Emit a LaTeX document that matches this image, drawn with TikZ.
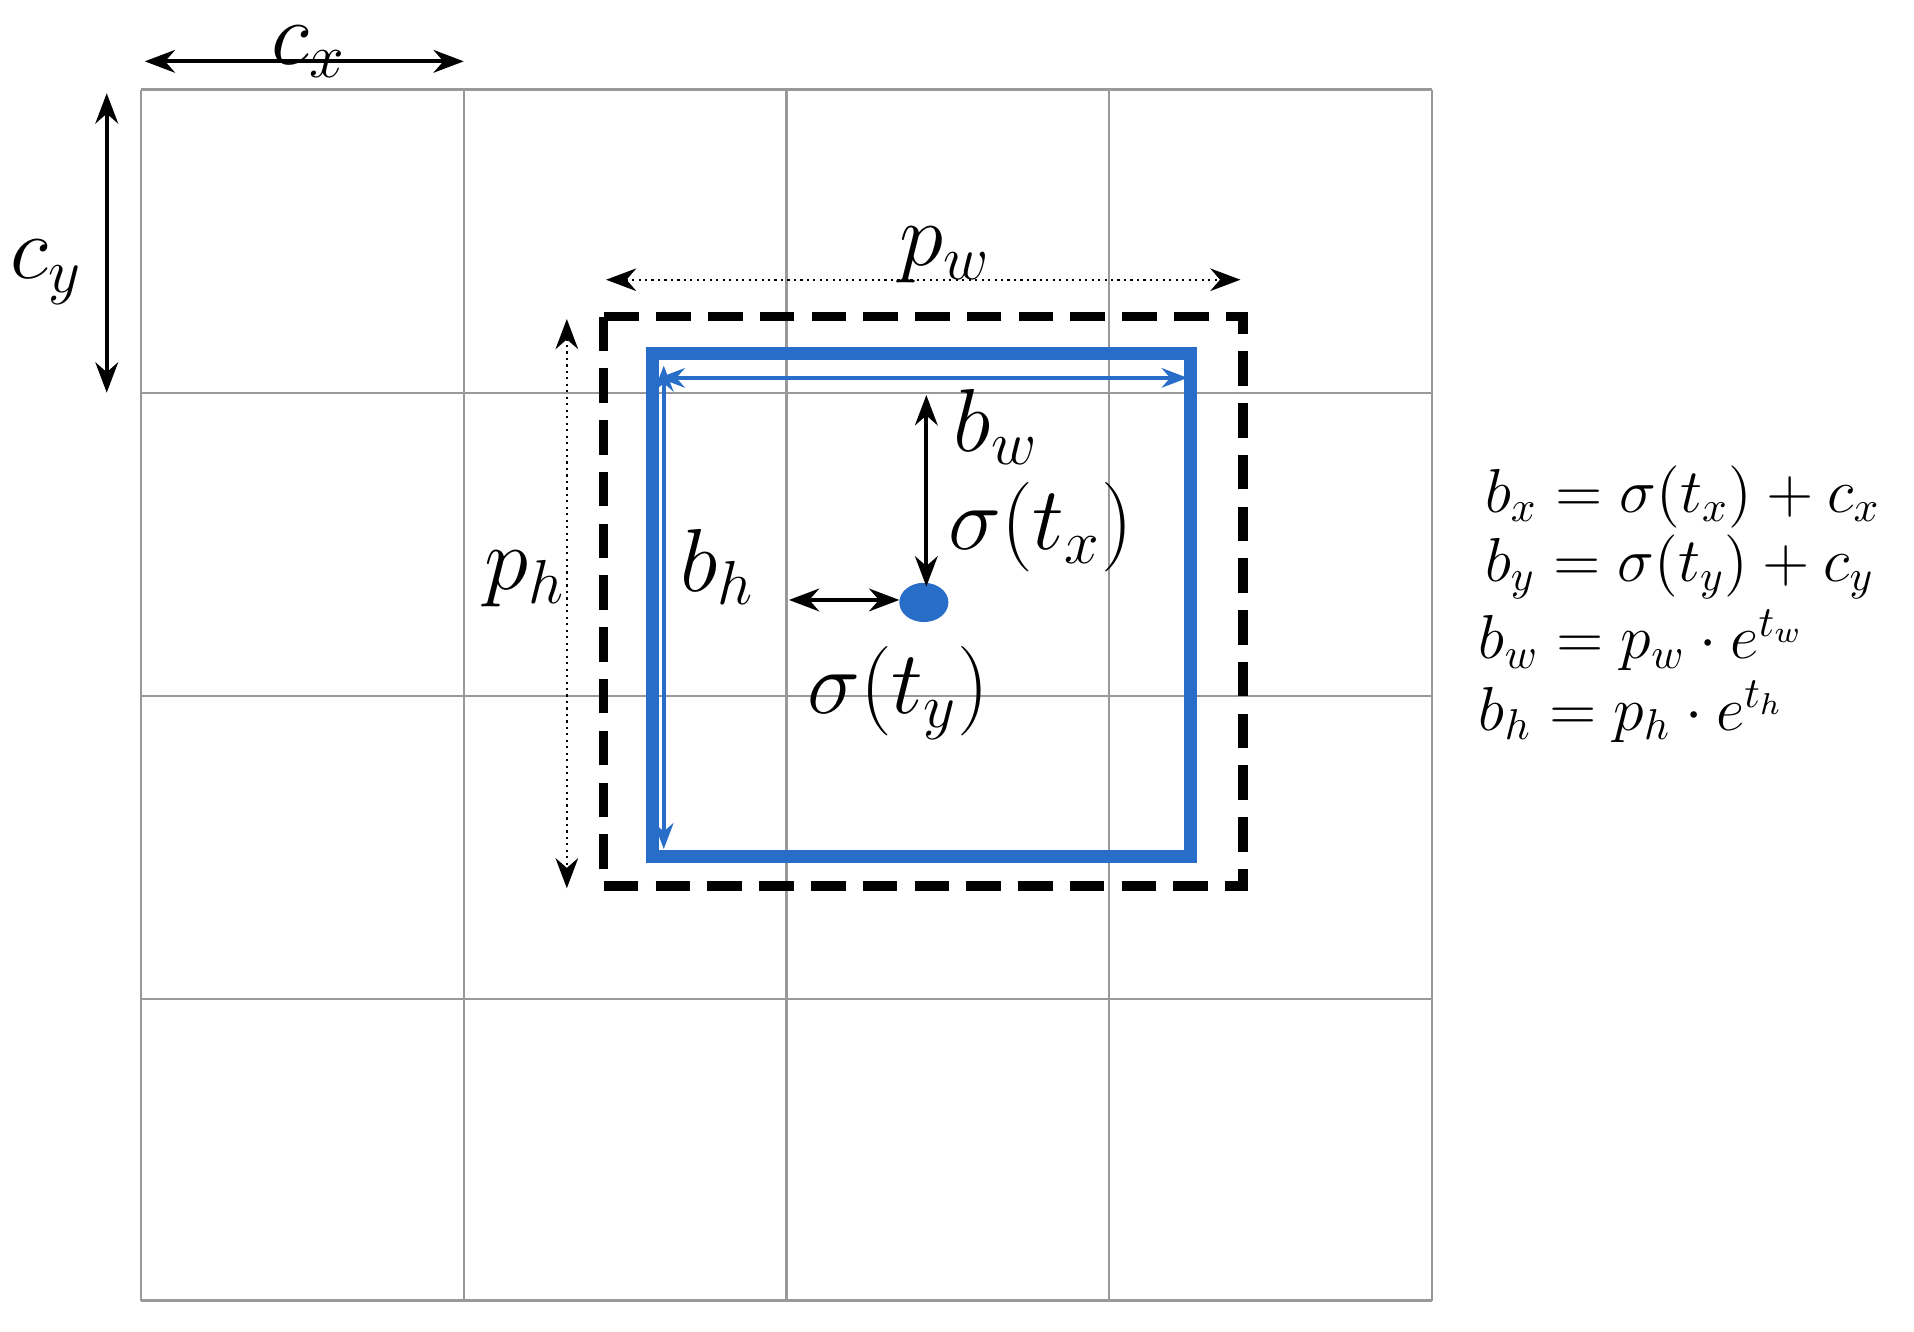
\documentclass[tikz,border=0pt]{standalone}
\usetikzlibrary{arrows.meta,shapes.geometric}
\begin{document}
\begin{tikzpicture}[x=0.01cm,y=-0.01cm,
  gridline/.style={draw=gray!80,line width=0.5pt},
  dimarrow/.style={{Stealth[length=7pt]}-{Stealth[length=7pt]},line width=1pt},
  thinarrow/.style={{Stealth[length=7pt]}-{Stealth[length=7pt]},densely dotted,line width=0.5pt},
  bluearrow/.style={{Stealth[length=6pt]}-{Stealth[length=6pt]},line width=1pt},
  lab/.style={font=\fontsize{20}{24}\selectfont},
  eq/.style={font=\fontsize{14.5}{18}\selectfont,anchor=west}]
\useasboundingbox (0,0) rectangle (1560,1085);
\definecolor{bboxblue}{RGB}{40,110,200}
\foreach \x in {115,378,641,904,1167} \draw[gridline] (\x,73) -- (\x,1060);
\foreach \y in {73,320,567,814,1060} \draw[gridline] (115,\y) -- (1167,\y);
\draw[line width=2.2pt,dash pattern=on 8pt off 4pt] (492,258) rectangle (1013,722);
\draw[bboxblue,line width=3pt] (532,288) rectangle (970,698);
\coordinate (h1) at (537,308); \coordinate (h2) at (968,308);
\coordinate (v1) at (541,298); \coordinate (v2) at (541,692);
\draw[bluearrow,draw=bboxblue] (h1) -- (h2);
\draw[bluearrow,draw=bboxblue] (v1) -- (v2);
\coordinate (cx1) at (118,50); \coordinate (cx2) at (378,50);
\draw[dimarrow] (cx1) -- (cx2);
\coordinate (cy1) at (87,76); \coordinate (cy2) at (87,320);
\draw[dimarrow] (cy1) -- (cy2);
\coordinate (pw1) at (494,228); \coordinate (pw2) at (1011,228);
\draw[thinarrow] (pw1) -- (pw2);
\coordinate (ph1) at (462,260); \coordinate (ph2) at (462,724);
\draw[thinarrow] (ph1) -- (ph2);
\node[fill=bboxblue,ellipse,minimum width=0.4cm,minimum height=0.32cm,inner sep=0] (dot) at (753,491) {};
\coordinate (tx1) at (755,322); \coordinate (tx2) at (755,478);
\draw[dimarrow] (tx1) -- (tx2);
\coordinate (ty1) at (643,489); \coordinate (ty2) at (733,489);
\draw[dimarrow] (ty1) -- (ty2);
\node[lab] (lcx) at (252,42) {$c_x$};
\node[lab] (lcy) at (38,222) {$c_y$};
\node[lab] (lpw) at (770,208) {$p_w$};
\node[lab] (lbw) at (812,348) {$b_w$};
\node[lab] (lsx) at (848,430) {$\sigma(t_x)$};
\node[lab] (lbh) at (585,462) {$b_h$};
\node[lab] (lph) at (428,472) {$p_h$};
\node[lab] (lsy) at (732,565) {$\sigma(t_y)$};
\node[eq] (e1) at (1198,405) {$b_x = \sigma(t_x) + c_x$};
\node[eq] (e2) at (1198,462) {$b_y = \sigma(t_y) + c_y$};
\node[eq] (e3) at (1193,522) {$b_w = p_w\cdot e^{t_w}$};
\node[eq] (e4) at (1193,580) {$b_h = p_h\cdot e^{t_h}$};
\end{tikzpicture}
\end{document}
